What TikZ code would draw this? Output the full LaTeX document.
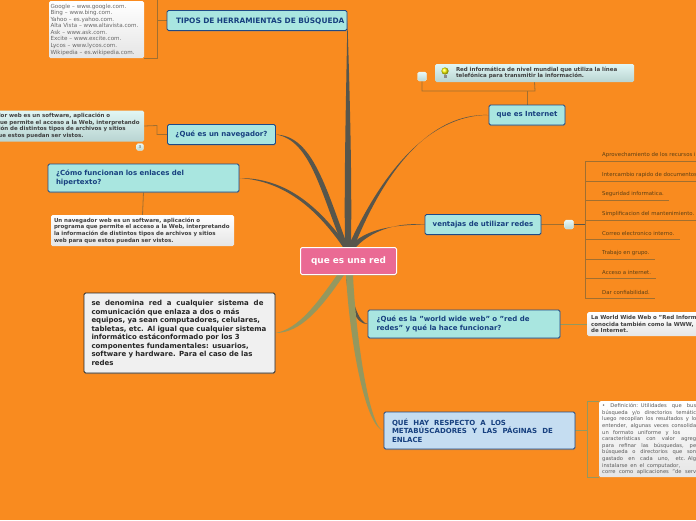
\documentclass[tikz,border=0pt]{standalone}
\usepackage{fontspec}
\setmainfont{DejaVu Sans}
\usetikzlibrary{backgrounds,shadows}
\definecolor{bgorange}{HTML}{F98B1F}
\definecolor{topicfill}{HTML}{A9E6E0}
\definecolor{metafill}{HTML}{C5DDF1}
\definecolor{topicline}{HTML}{1F4A86}
\definecolor{topictext}{HTML}{17407F}
\definecolor{rootpink}{HTML}{EA6A94}
\definecolor{darkbranch}{HTML}{57564C}
\definecolor{olivebranch}{HTML}{94985F}
\definecolor{linkbrown}{HTML}{A16F30}
\definecolor{labelbrown}{HTML}{5C3F14}
\newcommand{\fitline}[2]{\makebox[#1pt][s]{\spaceskip=.33em plus 1fil\relax #2}}
\tikzset{
  topicbox/.style={draw=topicline,line width=.8pt,rounded corners=1.5pt,fill=topicfill,text=topictext,
    font=\fontsize{7}{8.5}\selectfont\bfseries,inner sep=0pt,align=left,
    drop shadow={shadow xshift=.4pt,shadow yshift=-1pt,opacity=.45}},
  whitenote/.style={rounded corners=1.5pt,top color=white,bottom color=black!10,text=black!75,
    font=\fontsize{5.5}{6.6}\selectfont\bfseries,inner sep=0pt,align=left},
  bluenote/.style={rounded corners=1.5pt,top color=topicfill!35,bottom color=topicfill!65!gray!70,text=black!75,
    font=\fontsize{5.5}{6.6}\selectfont\bfseries,inner sep=0pt,align=left},
  tinybox/.style={rounded corners=1.5pt,top color=topicfill!25,bottom color=topicfill!70!gray!70,draw=white!70!topicfill,
    line width=.3pt,minimum size=9pt,inner sep=0pt},
  itemlabel/.style={anchor=west,inner sep=0pt,text=labelbrown,font=\fontsize{5.4}{6}\selectfont},
  linkline/.style={linkbrown,line width=.8pt},
  itemline/.style={linkbrown,line width=.8pt}
}
\begin{document}
\begin{tikzpicture}[x=1pt,y=-1pt]
\useasboundingbox (0,0) rectangle (696,520);
\node[topicbox,fill=rootpink,draw=white,line width=1pt,text=white,minimum width=96pt,minimum height=27pt,font=\fontsize{8.9}{10}\selectfont\bfseries] (root) at (348.5,261){que es una red};
\node[topicbox,minimum width=180pt,minimum height=20pt,font=\fontsize{7.4}{8.5}\selectfont\bfseries] (tipos) at (257,20.5){\fitline{162}{TIPOS DE HERRAMIENTAS DE BÚSQUEDA}};
\node[topicbox,minimum width=108pt,minimum height=20pt] (navegador) at (221.5,134.5){¿Qué es un navegador?};
\node[topicbox,minimum width=191pt,minimum height=28pt,text width=175pt] (enlaces) at (143.5,178){¿Cómo funcionan los enlaces del\\hipertexto?};
\node[topicbox,minimum width=76pt,minimum height=20pt] (internet) at (527,115){que es Internet};
\node[topicbox,minimum width=116pt,minimum height=20pt] (ventajas) at (483,224.5){ventajas de utilizar redes};
\node[topicbox,minimum width=192pt,minimum height=28pt,text width=175pt] (world) at (464,324){¿Qué es la "world wide web" o "red de\\redes" y qué la hace funcionar?};
\node[topicbox,fill=black!6,draw=black!85,text=black!85,minimum width=191pt,minimum height=80pt,text width=176pt] (definicion) at (179.5,333){\fitline{172}{se denomina red a cualquier sistema de}\\comunicación que enlaza a dos o más\\equipos, ya sean computadores, celulares,\\tabletas, etc. Al igual que cualquier sistema\\informático estáconformado por los 3\\componentes fundamentales: usuarios,\\software y hardware. Para el caso de las\\redes};
\node[topicbox,fill=metafill,minimum width=191pt,minimum height=37pt,text width=175pt] (metabusca) at (479.5,430.5){\fitline{114}{QUÉ HAY RESPECTO A LOS}\\\fitline{161}{METABÚSCADORES Y LAS PÁGINAS DE}\\ENLACE};
\node[whitenote,minimum width=95pt,minimum height=57pt,text width=92pt,text=black!60,font=\fontsize{5.6}{6.57}\selectfont] (buscadores) at (96.5,29.5){Google – www.google.com.\\Bing – www.bing.com.\\Yahoo – es.yahoo.com.\\Alta Vista – www.altavista.com.\\Ask – www.ask.com.\\Excite – www.excite.com.\\Lycos – www.lycos.com.\\Wikipedia – es.wikipedia.com.};
\node[bluenote,minimum width=183pt,minimum height=31pt,text width=177pt] (navnote) at (52.5,126){Un navegador web es un software, aplicación o\\programa que permite el acceso a la Web, interpretando\\la información de distintos tipos de archivos y sitios\\web para que estos puedan ser vistos.};
\node[tinybox,minimum size=7pt,font=\fontsize{4}{4}\selectfont,text=black!70] (contador) at (140,147){3};
\node[whitenote,minimum width=183pt,minimum height=31pt,text width=177pt] (enlacenote) at (142.5,230.5){Un navegador web es un software, aplicación o\\programa que permite el acceso a la Web, interpretando\\la información de distintos tipos de archivos y sitios\\web para que estos puedan ser vistos.};
\node[bluenote,minimum width=199pt,minimum height=18pt,text width=190pt] (internetnote) at (534.5,73){\hspace*{16.5pt}Red informática de nivel mundial que utiliza la línea\\\hspace*{16.5pt}telefónica para transmitir la información.};
\node[tinybox] (intersquare) at (422,76.5){};
\shade[ball color=yellow] (445,71) circle (3.6pt);
\fill[black!45] (443.5,75) rectangle (446.5,78);
\node[tinybox] (ventsquare) at (569,224.5){};
\node[whitenote,anchor=north west,minimum width=120pt,minimum height=24pt,text width=116pt] (worldnote) at (587,312){\hspace*{2pt}La World Wide Web o "Red Inform\\\hspace*{2pt}conocida también como la WWW,\\\hspace*{2pt}de Internet.};
\node[whitenote,anchor=north west,minimum width=120pt,minimum height=76pt,text=black!65,text width=114pt,font=\fontsize{5.2}{6.6}\selectfont] (metanote) at (599,401){\fitline{94}{• Definición: Utilidades que bus}\\\fitline{94}{búsqueda y/o directorios temátic}\\\fitline{94}{luego recopilan los resultados y lo}\\\fitline{94}{entender, algunas veces consolida}\\\fitline{78}{un formato uniforme y los}\\\fitline{94}{características con valor agreg}\\\fitline{94}{para refinar las búsquedas, pe}\\\fitline{94}{búsqueda o directorios que son}\\\fitline{94}{gastado en cada uno, etc. Alg}\\\fitline{78}{instalarse en el computador,}\\\fitline{94}{corre como aplicaciones "de serv}};
\coordinate (buscatop) at (157,0);
\coordinate (itemtop) at (585,161.5);
\coordinate (itembot) at (585,298);
\node[itemlabel] (item1) at (602,155.5){Aprovechamiento de los recursos i};
\node[itemlabel] (item2) at (602,175){Intercambio rapido de documentos};
\node[itemlabel] (item3) at (602,194){Seguridad informatica.};
\node[itemlabel] (item4) at (602,214){Simplificacion del mantenimiento.};
\node[itemlabel] (item5) at (602,233){Correo electronico interno.};
\node[itemlabel] (item6) at (602,253){Trabajo en grupo.};
\node[itemlabel] (item7) at (602,272){Acceso a internet.};
\node[itemlabel] (item8) at (602,292){Dar confiabilidad.};
\begin{scope}[on background layer]
\fill[bgorange] (0,0) rectangle (696,520);
\fill[darkbranch] (tipos.east) .. controls (350,100) and (352,180) .. (351,247) -- (345,247) .. controls (344,180) and (346,100) .. (tipos.east);
\fill[darkbranch] (navegador.east) .. controls (312,136) and (325,185) .. (348,247) -- (343,247) .. controls (320,190) and (310,140) .. (navegador.east);
\fill[darkbranch] (enlaces.east) .. controls (285,178) and (318,205) .. (348,247) -- (343,247) .. controls (316,208) and (284,181) .. (enlaces.east);
\fill[darkbranch] (internet.west) .. controls (430,113) and (385,170) .. (354,247) -- (348,247) .. controls (382,172) and (429,115) .. (internet.west);
\fill[darkbranch] (ventajas.west) .. controls (395,222) and (370,232) .. (356,247) -- (349,247) .. controls (365,229) and (392,225) .. (ventajas.west);
\fill[darkbranch] (world.west) .. controls (358,322) and (351,300) .. (350,275) -- (346,275) .. controls (348,305) and (356,325) .. (world.west);
\fill[olivebranch] (metabusca.west) .. controls (370,430) and (356,340) .. (353,275) -- (346,275) .. controls (350,345) and (366,428) .. (metabusca.west);
\fill[olivebranch] (definicion.east) .. controls (300,333) and (320,310) .. (344,275) -- (337,275) .. controls (316,305) and (298,329) .. (definicion.east);
\draw[linkline] (tipos.west) -- (157,20.5);
\draw[linkline] (buscatop) |- (buscadores.south east);
\draw[linkline] (navegador.west) -| (157,125.5) -- (navnote.east);
\draw[linkline] (enlaces.south) -- (enlacenote.north);
\draw[linkline] (internet.north) -- (527,91);
\draw[linkline] (intersquare.south) |- (535,91) -- (internetnote.south);
\draw[linkline] (ventajas.east) -- (ventsquare.west);
\draw[darkbranch,line width=1.2pt] (ventsquare.east) -- (585,224.5);
\draw[itemline,line width=1pt] (itemtop) -- (itembot);
\draw[itemline] (itemtop) -- (696,161.5);
\draw[itemline] (585,181.5) -- (696,181.5);
\draw[itemline] (585,200.5) -- (669,200.5);
\draw[itemline] (585,220.5) -- (696,220.5);
\draw[itemline] (585,239.5) -- (680,239.5);
\draw[itemline] (585,259) -- (655,259);
\draw[itemline] (585,278.5) -- (656,278.5);
\draw[itemline] (itembot) -- (655,298);
\draw[linkline,olivebranch] (world.east) -- (worldnote.west |- world.east);
\draw[linkline,olivebranch] (metabusca.east) -- (587,430.5);
\draw[linkline,olivebranch] (599,401) -| (587,477) -- (599,477);
\end{scope}
\end{tikzpicture}
\end{document}
